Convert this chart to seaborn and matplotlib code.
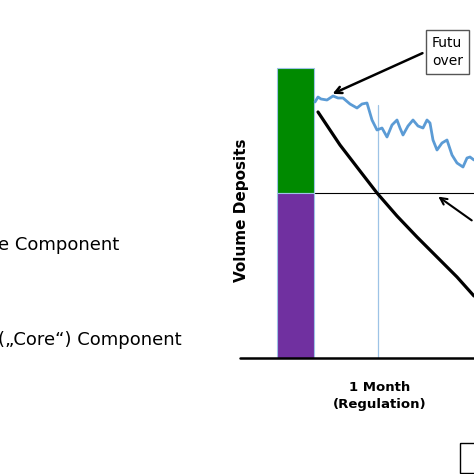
import pandas as pd
import matplotlib.pyplot as plt
import seaborn as sns

# Diagram values (layout units, y grows downward like the source slide)
flow_x = [315, 318, 321, 327, 333, 338, 343, 350, 357, 362, 367, 372, 377, 382, 387, 392,
          397, 400, 403, 408, 413, 418, 423, 427, 430, 433, 437, 442, 447, 452, 457, 463, 467, 470, 474]
flow_y = [102, 97, 99, 100, 96, 98, 98, 104, 108, 104, 103, 120, 130, 128, 137, 125,
          120, 128, 135, 126, 120, 126, 128, 120, 123, 140, 150, 143, 140, 155, 163, 167, 158, 157, 160]
curve_x = [318, 340, 360, 377, 397, 417, 437, 457, 474]
curve_y = [112, 145, 171, 193, 216, 237, 257, 277, 296]
bar_parts = ["volatile", "core"]
bar_top = [68, 193]
bar_bottom = [193, 358]
bar_colors = ["#008a00", "#7030a0"]

sns.set_theme(style="white")
fig = plt.figure(figsize=(4.74, 4.74), dpi=100)
ax = fig.add_axes([0, 0, 1, 1])
ax.set_xlim(0, 474)
ax.set_ylim(474, 0)
ax.axis("off")

for part, top, bot, col in zip(bar_parts, bar_top, bar_bottom, bar_colors):
    ax.bar(295.5, bot - top, bottom=top, width=37, color=col, edgecolor="#9dc3e6", linewidth=0.8)

ax.plot([378, 378], [105, 358], color="#9dc3e6", lw=0.9)
ax.plot([315, 474], [193, 193], color="black", lw=0.8)
ax.plot([240, 474], [358, 358], color="black", lw=1.8)

sns.lineplot(x=flow_x, y=flow_y, ax=ax, color="#5b9bd5", lw=2.0, sort=False)
df = pd.DataFrame({"x": curve_x, "y": curve_y})
sns.lineplot(data=df, x="x", y="y", ax=ax, color="black", lw=2.3)

ax.annotate("", xy=(330, 95), xytext=(425, 52),
            arrowprops=dict(arrowstyle="->", color="black", lw=1.8))
ax.annotate("", xy=(436, 195), xytext=(474, 222),
            arrowprops=dict(arrowstyle="->", color="black", lw=1.5))
ax.text(432, 52, "Futu\nover", fontsize=10, va="center", ha="left", linespacing=1.3,
        color="black",
        bbox=dict(boxstyle="square,pad=0.45", fc="white", ec="#555555", lw=1))
ax.add_patch(plt.Rectangle((460, 443), 20, 30, fill=False, ec="black", lw=1))

ax.text(242, 210, "Volume Deposits", rotation=90, fontsize=11, fontweight="bold",
        ha="center", va="center", color="black")
ax.text(380, 396, "1 Month\n(Regulation)", fontsize=9.5, fontweight="bold",
        ha="center", va="center", linespacing=1.4, color="black")
ax.text(-2, 245, "e Component", fontsize=13, ha="left", va="center", color="black")
ax.text(-2, 340, "(\u201eCore\u201c) Component", fontsize=13, ha="left", va="center", color="black")

fig.savefig("out.png", dpi=100)
